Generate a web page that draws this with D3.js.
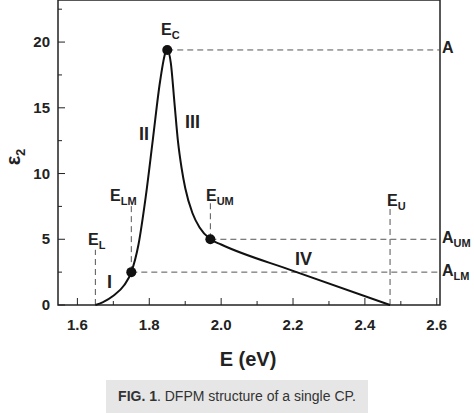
<!DOCTYPE html>
<html><head><meta charset="utf-8">
<script src="https://cdn.jsdelivr.net/npm/d3@7"></script>
<style>body{margin:0;background:#fff;font-family:Arial,"Liberation Sans",sans-serif;}</style>
</head><body><svg id="c" width="474" height="413"></svg>
<script>
// curve of eps2 vs E
var energy = [1.65,1.67,1.70,1.73,1.75,1.77,1.79,1.81,1.83,1.845,1.85,1.86,1.87,1.88,1.89,1.90,1.92,1.94,1.97,2.0,2.2,2.47];
var eps2 = [0,0.2,0.7,1.5,2.5,4.6,8.2,12.6,17,19.2,19.4,18.4,15.4,12.4,10.4,8.9,7,5.9,5,4.6,2.6,0];
var markE = [1.75,1.85,1.97];
var markA = [2.5,19.4,5];
var xTicks = [1.6,1.8,2.0,2.2,2.4,2.6];
var yTicks = [0,5,10,15,20];

var svg = d3.select('#c');
var x = d3.scaleLinear().domain([1.546,2.609]).range([58,440]);
var y = d3.scaleLinear().domain([0,23.2]).range([305,0]);
var bold = 'bold';

// frame
svg.append('rect').attr('x',58).attr('y',0).attr('width',382).attr('height',305)
  .attr('fill','none').attr('stroke','#222').attr('stroke-width',1.5);

// ticks (inside)
var minorX = d3.range(1.6,2.61,0.1), minorY = d3.range(0,23,2.5);
minorX.forEach(function(v){
  var maj = xTicks.some(function(t){return Math.abs(t-v)<1e-6;});
  svg.append('line').attr('x1',x(v)).attr('x2',x(v)).attr('y1',305).attr('y2',305-(maj?7:4)).attr('stroke','#222');
});
minorY.forEach(function(v){
  var maj = v%5===0;
  svg.append('line').attr('x1',58).attr('x2',58+(maj?7:4)).attr('y1',y(v)).attr('y2',y(v)).attr('stroke','#222');
});
svg.selectAll('.xt').data(xTicks).enter().append('text')
  .attr('x',function(d){return x(d);}).attr('y',330).attr('text-anchor','middle')
  .attr('font-size',15).attr('font-weight',bold).attr('fill','#222').text(function(d){return d.toFixed(1);});
svg.selectAll('.yt').data(yTicks).enter().append('text')
  .attr('x',50).attr('y',function(d){return y(d)+5;}).attr('text-anchor','end')
  .attr('font-size',15).attr('font-weight',bold).attr('fill','#222').text(function(d){return d;});

svg.append('text').attr('x',248).attr('y',366).attr('text-anchor','middle').attr('font-size',20)
  .attr('font-weight',bold).attr('fill','#222').text('E (eV)');
svg.append('text').attr('transform','translate(20,157) rotate(-90)').attr('text-anchor','middle')
  .attr('font-size',20).attr('font-weight',bold).attr('fill','#222')
  .html('ε<tspan font-size="13" dy="5">2</tspan>');

// dashed guides
var dash = function(x1,y1,x2,y2){
  svg.append('line').attr('x1',x1).attr('y1',y1).attr('x2',x2).attr('y2',y2)
    .attr('stroke','#555').attr('stroke-width',1).attr('stroke-dasharray','6,4');
};
dash(x(1.65),y(0),x(1.65),y(4.2));
dash(x(1.75),y(2.5),x(1.75),y(7.6));
dash(x(1.97),y(5),x(1.97),y(7.9));
dash(x(2.47),y(0),x(2.47),y(7.6));
markA.forEach(function(a,i){ dash(x(markE[i]),y(a),440,y(a)); });

// curve
svg.append('path').datum(d3.zip(energy,eps2))
  .attr('d',d3.line().x(function(d){return x(d[0]);}).y(function(d){return y(d[1]);}).curve(d3.curveMonotoneX))
  .attr('fill','none').attr('stroke','#111').attr('stroke-width',2);
svg.selectAll('.pt').data(markE).enter().append('circle')
  .attr('cx',function(d){return x(d);}).attr('cy',function(d,i){return y(markA[i]);})
  .attr('r',5).attr('fill','#111');

// labels
function lab(px,py,main,sub,size){
  var t = svg.append('text').attr('x',px).attr('y',py).attr('font-size',size||16).attr('font-weight',bold).attr('fill','#222');
  t.append('tspan').text(main);
  if(sub) t.append('tspan').attr('font-size',11).attr('dy',4).text(sub);
}
lab(88,245,'E','L');
lab(110,201,'E','LM');
lab(161,35,'E','C');
lab(206,201,'E','UM');
lab(387,206,'E','U');
lab(442,53,'A');
lab(442,243,'A','UM');
lab(442,276,'A','LM');
lab(107,288,'I',null,18);
lab(139,140,'II',null,18);
lab(185,128,'III',null,18);
lab(295,265,'IV',null,18);

// caption
svg.append('rect').attr('x',106).attr('y',380).attr('width',262).attr('height',33).attr('fill','#e6e6e6');
var cap = svg.append('text').attr('x',237).attr('y',401).attr('text-anchor','middle').attr('font-size',14).attr('fill','#333')
  .attr('font-family','"Liberation Sans Narrow",Arial,sans-serif');
cap.append('tspan').attr('font-weight',bold).text('FIG. 1');
cap.append('tspan').text('. DFPM structure of a single CP.');
</script></body></html>
